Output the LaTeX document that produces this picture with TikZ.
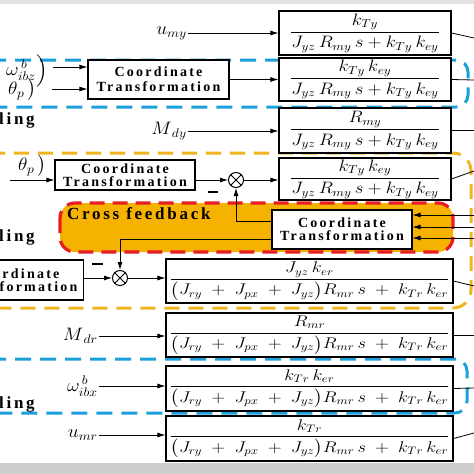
\documentclass[tikz,border=0pt]{standalone}
\usepackage{amsmath}
\usepackage{graphicx}
\usepackage{fontspec}
\setmainfont{Liberation Serif}
\newfontfamily\spfont{Liberation Serif}[LetterSpace=16]
\usetikzlibrary{arrows.meta,calc}
\definecolor{blueD}{RGB}{27,160,220}
\definecolor{yellowD}{RGB}{240,180,30}
\definecolor{redD}{RGB}{230,30,35}
\definecolor{orangeF}{RGB}{245,178,0}
\definecolor{bandA}{RGB}{228,228,228}
\definecolor{bandB}{RGB}{205,205,205}
\newcommand{\denY}{J_{yz}\,R_{my}\,s+k_{Ty}\,k_{ey}}
\newcommand{\denR}{\bigl(J_{ry}\;+\;J_{px}\;+\;J_{yz}\bigr)R_{mr}\,s\;+\;k_{Tr}\,k_{er}}
\newcommand{\fracY}[1]{\scalebox{1.3}[1.15]{$\dfrac{#1}{\denY}$}}
\newcommand{\fracR}[1]{\scalebox{1.27}[1.08]{$\dfrac{#1}{\denR}$}}
\newcommand{\lab}[1]{\scalebox{1.35}[1.25]{$#1$}}
\begin{document}
\begin{tikzpicture}[x=1pt,y=-1pt,
  tf/.style={draw, line width=1.1pt, fill=white, inner sep=0pt, font=\fontsize{14.4}{16}\selectfont},
  ct/.style={draw, line width=1.1pt, fill=white, inner sep=0pt, align=center, font=\spfont\bfseries\fontsize{14}{13}\selectfont},
  lbl/.style={inner sep=1pt, font=\fontsize{14.4}{17}\selectfont},
  big/.style={inner sep=0pt, font=\spfont\bfseries\fontsize{17}{19}\selectfont},
  arr/.style={-{Latex[length=8pt,width=5pt]}, line width=0.8pt},
  ln/.style={line width=0.8pt},
  sumc/.style={circle, draw, line width=1pt, fill=white, minimum size=15pt, inner sep=0pt,
    path picture={\draw[line width=0.9pt] (path picture bounding box.north west) -- (path picture bounding box.south east)
      (path picture bounding box.north east) -- (path picture bounding box.south west);}},
  bluedash/.style={draw=blueD, line width=3pt, dash pattern=on 16pt off 9pt},
  yeldash/.style={draw=yellowD, line width=3pt, dash pattern=on 15pt off 9pt},
  reddash/.style={draw=redD, line width=3.2pt, dash pattern=on 15pt off 8pt},
  minus/.style={line width=2.8pt}
]
\useasboundingbox (0,0) rectangle (474,474);
\clip (0,0) rectangle (474,474);
\fill[bandA] (0,0) rectangle (474,4);
\fill[bandB] (0,463) rectangle (474,474);

% dashed regions
\draw[bluedash, rounded corners=12pt] (-10,60) -- (468,60) -- (468,107) -- (-10,107);
\draw[yeldash, rounded corners=18pt] (-10,153) -- (471,153) -- (471,308) -- (-10,308);
\draw[bluedash, rounded corners=12pt] (-10,359) -- (467,359) -- (467,413) -- (-10,413);
\draw[reddash, fill=orangeF, rounded corners=15pt] (60,203) rectangle (453,252);

% transfer function boxes
\node[tf, minimum width=172pt, minimum height=44pt] (b1) at (365,33) {\fracY{k_{Ty}}};
\node[tf, minimum width=172pt, minimum height=43pt] (b2) at (365,79.5) {\fracY{k_{Ty}\,k_{ey}}};
\node[tf, minimum width=172pt, minimum height=45pt] (b3) at (365,130.5) {\fracY{R_{my}}};
\node[tf, minimum width=172pt, minimum height=42pt] (b4) at (365,179) {\fracY{k_{Ty}\,k_{ey}}};
\node[tf, minimum width=287pt, minimum height=44pt] (b5) at (309.5,281) {\fracR{J_{yz}\,k_{er}}};
\node[tf, minimum width=287pt, minimum height=44pt] (b6) at (309.5,335) {\fracR{R_{mr}}};
\node[tf, minimum width=287pt, minimum height=45pt] (b7) at (309.5,388.5) {\fracR{k_{Tr}\,k_{er}}};
\node[tf, minimum width=287pt, minimum height=45pt] (b8) at (309.5,438.5) {\fracR{k_{Tr}}};

% coordinate transformation boxes
\node[ct, minimum width=141pt, minimum height=39pt] (ct1) at (158.5,79.5) {Coordinate\\[2pt]Transformation};
\node[ct, minimum width=140pt, minimum height=30pt] (ct2) at (125,175) {Coordinate\\Transformation};
\node[ct, minimum width=140pt, minimum height=39pt] (ct3) at (342,229.5) {Coordinate\\Transformation};
\node[draw, line width=1.1pt, fill=white, minimum width=100pt, minimum height=40pt, inner sep=0pt, anchor=east] (ct4) at (84,280) {};
\node[ct, draw=none, fill=none, align=right, anchor=east] (ct4t) at (78,280) {rdinate\hspace*{18pt}\\formation};

\node[big, anchor=west] (cf) at (67,214) {Cross feedback};
\node[big, anchor=west] (l1) at (-1,120) {ling};
\node[big, anchor=west] (l2) at (-1,237) {ling};
\node[big, anchor=west] (l3) at (-1,404) {ling};

% sum junctions
\node[sumc] (s1) at (236,180) {};
\node[sumc] (s2) at (120,278) {};
\draw[minus] (208,192) -- (218,192);
\draw[minus] (92,264) -- (103,264);

% input labels
\node[lbl, anchor=east] (lumy) at (188,33) {\lab{u_{my}}};
\node[lbl, anchor=west] (lw) at (5,71) {\lab{\omega_{ibz}^{\,b}\Big)}};
\node[lbl, anchor=west] (lt) at (7,90) {\lab{\theta_{p}\,\big)}};
\node[lbl, anchor=east] (lmdy) at (188,131) {\lab{M_{\,dy}}};
\node[lbl, anchor=west] (lt2) at (17,166) {\lab{\theta_{p}\,\big)}};
\node[lbl, anchor=east] (lmdr) at (99,336) {\lab{M_{\,dr}}};
\node[lbl, anchor=east] (lwx) at (99,386) {\lab{\omega_{ibx}^{\,b}}};
\node[lbl, anchor=east] (lumr) at (99,435) {\lab{u_{mr}}};

\coordinate (a1) at (53,67);
\coordinate (a2) at (52,89);
\coordinate (a3) at (10,180);

% arrows
\draw[arr] (lumy.east) -- (lumy.east -| b1.west);
\draw[arr] (a1) -- (a1 -| ct1.west);
\draw[arr] (a2) -- (a2 -| ct1.west);
\draw[arr] (ct1.east) -- (ct1.east -| b2.west);
\draw[arr] (lmdy.east) -- (lmdy.east -| b3.west);
\draw[arr] (a3) -- (a3 -| ct2.west);
\draw[arr] (s1 -| ct2.east) -- (s1.west);
\draw[arr] (s1.east) -- (s1 -| b4.west);
\draw[arr] (ct3.west |- 0,221) -| (s1.south);
\draw[arr] (ct3.west |- 0,239) -| (s2.north);
\draw[arr] (ct4.east |- s2) -- (s2.west);
\draw[arr] (s2.east) -- (s2 -| b5.west);
\draw[arr] (lmdr.east) -- (lmdr.east -| b6.west);
\draw[arr] (lwx.east) -- (lwx.east -| b7.west);
\draw[arr] (lumr.east) -- (lumr.east -| b8.west);

% inputs to cross-feedback transformation
\coordinate (i1) at (474,215);
\coordinate (i2) at (474,227);
\coordinate (i3) at (474,238);
\draw[arr] (i1) -- (i1 -| ct3.east);
\draw[arr] (i2) -- (i2 -| ct3.east);
\draw[arr] (i3) -- (i3 -| ct3.east);

% outputs
\coordinate (o1) at (474,38);
\coordinate (o2) at (474,80);
\coordinate (o3) at (474,130.5);
\coordinate (o4) at (474,171);
\coordinate (o5) at (474,286);
\coordinate (o6) at (474,335);
\coordinate (o7) at (474,388);
\coordinate (o8) at (474,433);
\draw[ln] (b1.east) -- (o1);
\draw[ln] (b2.east) -- (o2);
\draw[ln] (b3.east) -- (o3);
\draw[ln] (b4.east) -- (o4);
\draw[ln] (b5.east) -- (o5);
\draw[ln] (b6.east) -- (o6);
\draw[ln] (b7.east) -- (o7);
\draw[ln] (b8.east) -- (o8);
\end{tikzpicture}
\end{document}
